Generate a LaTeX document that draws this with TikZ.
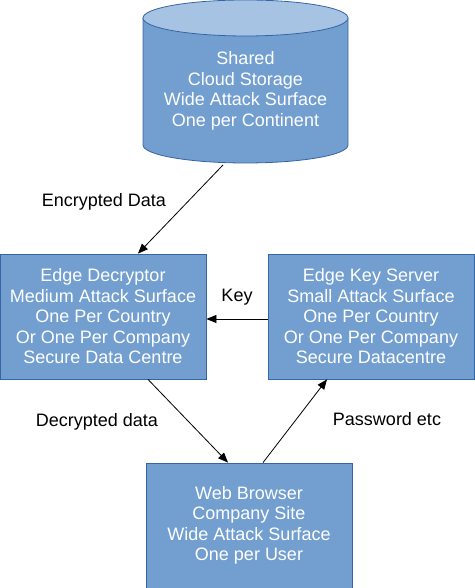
\documentclass[tikz,border=0pt]{standalone}
\usepackage{fontspec}
\setmainfont{Liberation Sans}
\usepackage{xcolor}
\usetikzlibrary{arrows.meta}
\definecolor{boxblue}{HTML}{729FCF}
\definecolor{boxline}{HTML}{3465A4}
\definecolor{toplight}{HTML}{A6C3E4}
\tikzset{x=1pt, y=1pt,
 every node/.style={font=\fontsize{18}{20.5}\selectfont, align=center},
 bluebox/.style={draw=boxline, fill=boxblue, text=white, line width=0.8pt,
   minimum width=206pt, minimum height=125pt, inner sep=0pt},
 plain/.style={text=black},
 link/.style={draw, line width=0.8pt, -{Triangle[length=10pt,width=8pt]}},
 }

\begin{document}
\begin{tikzpicture}
    \useasboundingbox (0,0) rectangle (474,588);
    % cloud storage drum
    \filldraw[draw=boxline, fill=boxblue, line width=0.8pt]
        (143,570) -- (143,443) arc[start angle=180, end angle=360, x radius=102.5, y radius=18]
        -- (348,570) -- cycle;
    \filldraw[draw=boxline, fill=toplight, line width=0.8pt]
        (245.5,570) ellipse[x radius=102.5, y radius=18];
    \node[text=white] (cloud) at (245.5,497)
        {Shared\\Cloud Storage\\Wide Attack Surface\\One per Continent};
    \coordinate (cloudbot) at (223,423);

    \node[bluebox] (decryptor) at (103,271.5)
        {Edge Decryptor\\Medium Attack Surface\\One Per Country\\Or One Per Company\\Secure Data Centre};
    \node[bluebox] (keyserver) at (371,271.5)
        {Edge Key Server\\Small Attack Surface\\One Per Country\\Or One Per Company\\Secure Datacentre};
    \node[bluebox] (browser) at (249,62.5)
        {Web Browser\\Company Site\\Wide Attack Surface\\One per User};

    \node[plain] (enclabel) at (104,386) {Encrypted Data};
    \node[plain] (keylabel) at (237,291) {Key};
    \node[plain] (declabel) at (97,166) {Decrypted data};
    \node[plain] (pwlabel) at (387,169) {Password etc};

    \draw[link] (cloudbot) -- ([xshift=35pt]decryptor.north);
    \draw[link] ([yshift=-2.5pt]keyserver.west) -- ([yshift=-2.5pt]decryptor.east);
    \draw[link] ([xshift=45pt]decryptor.south) -- ([xshift=-21pt]browser.north);
    \draw[link] ([xshift=14pt]browser.north) -- ([xshift=-44pt]keyserver.south);
\end{tikzpicture}
\end{document}
